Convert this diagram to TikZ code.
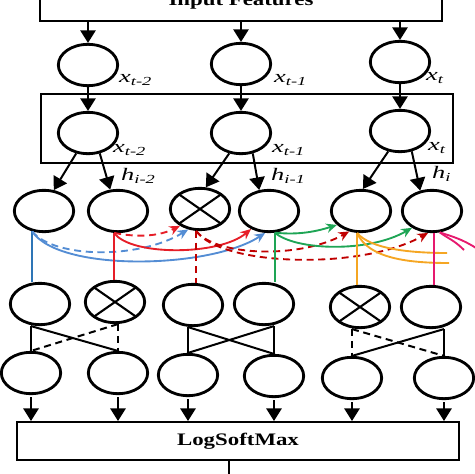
\documentclass[tikz,border=0pt]{standalone}
\usepackage{fontspec}
\setmainfont{Liberation Serif}
\usepackage{tikz}
\usetikzlibrary{arrows.meta,shapes.geometric,calc}
\definecolor{lstmblue}{RGB}{46,117,182}
\definecolor{skipblue}{RGB}{84,141,212}
\definecolor{lstmred}{RGB}{230,30,40}
\definecolor{lstmdark}{RGB}{192,0,0}
\definecolor{lstmgreen}{RGB}{30,165,85}
\definecolor{lstmorange}{RGB}{245,166,35}
\definecolor{lstmpink}{RGB}{230,25,110}
\newcommand{\lbl}[2]{\scalebox{1.5}[1]{\textit{#1}\textsubscript{\textit{#2}}}}
\newcommand{\boxtext}[1]{\scalebox{1.3}[1]{#1}}

\begin{document}
\begin{tikzpicture}[x=0.03cm,y=-0.03cm,
		cell/.style={ellipse,draw,line width=2.4pt,minimum width=1.78cm,minimum height=1.24cm,inner sep=0pt},
		gate/.style={cell,path picture={\draw[line width=1.8pt] (path picture bounding box.north west) -- (path picture bounding box.south east) (path picture bounding box.north east) -- (path picture bounding box.south west);}},
		layer/.style={rectangle,draw,line width=1.7pt,minimum height=1.14cm,font=\fontsize{15}{18}\selectfont\bfseries},
		lab/.style={anchor=west,inner sep=0pt,font=\fontsize{15}{17}\selectfont},
		arr/.style={line width=1.7pt,-{Triangle[width=0.46cm,length=0.38cm]}},
		link/.style={line width=1.7pt},
		flow/.style={line width=1.6pt},
		tip/.style={-{Stealth[length=0.32cm,width=0.28cm]}},
		dsh/.style={dash pattern=on 6pt off 4pt}]
		\useasboundingbox (0,0) rectangle (474,474);
		
		\node[layer,minimum width=12.06cm] (feat) at (241,2) {\boxtext{Input Features}};
		
		\node[cell] (in1) at (88,65) {};
		\node[cell] (in2) at (241,64) {};
		\node[cell] (in3) at (400,62) {};
		\node[lab] (lin1) at (119,80) {\lbl{x}{t-2}};
		\node[lab] (lin2) at (274,80) {\lbl{x}{t-1}};
		\node[lab] (lin3) at (426,78) {\lbl{x}{t}};
		
		\draw[link] (41,94) rectangle (453,163);
		\node[cell] (emb1) at (88,133) {};
		\node[cell] (emb2) at (241,133) {};
		\node[cell] (emb3) at (400,131) {};
		\node[lab] (lemb1) at (113,150) {\lbl{x}{t-2}};
		\node[lab] (lemb2) at (272,150) {\lbl{x}{t-1}};
		\node[lab] (lemb3) at (428,148) {\lbl{x}{t}};
		
		\node[cell] (h1) at (44,211) {};
		\node[cell] (h2) at (118,211) {};
		\node[gate] (h3) at (200,209) {};
		\node[cell] (h4) at (269,211) {};
		\node[cell] (h5) at (361,211) {};
		\node[cell] (h6) at (432,211) {};
		\node[lab] (lh1) at (121,176) {\lbl{h}{i-2}};
		\node[lab] (lh2) at (271,176) {\lbl{h}{i-1}};
		\node[lab] (lh3) at (432,174) {\lbl{h}{i}};
		
		\node[cell] (f1) at (40,304) {};
		\node[gate] (f2) at (115,302) {};
		\node[cell] (f3) at (193,305) {};
		\node[cell] (f4) at (264,304) {};
		\node[gate] (f5) at (360,307) {};
		\node[cell] (f6) at (431,307) {};
		
		\node[cell] (o1) at (31,373) {};
		\node[cell] (o2) at (118,373) {};
		\node[cell] (o3) at (188,375) {};
		\node[cell] (o4) at (274,376) {};
		\node[cell] (o5) at (352,378) {};
		\node[cell] (o6) at (444,378) {};
		
		\node[layer,minimum width=13.26cm] (lsm) at (238,441) {\boxtext{LogSoftMax}};
		\coordinate (sink) at (229,480);
		
		\draw[arr] (feat.south -| in1) -- (in1.north);
		\draw[arr] (feat.south -| in2) -- (in2.north);
		\draw[arr] (feat.south -| in3) -- (in3.north);
		\draw[arr] (in1) -- (emb1);
		\draw[arr] (in2) -- (emb2);
		\draw[arr] (in3) -- (emb3);
		\draw[arr] (emb1.240) -- (h1.65);
		\draw[arr] (emb1.300) -- (h2.110);
		\draw[arr] (emb2.240) -- (h3.75);
		\draw[arr] (emb2.300) -- (h4.115);
		\draw[arr] (emb3.240) -- (h5.85);
		\draw[arr] (emb3.300) -- (h6.120);
		
		% links from the hidden states
		\draw[flow,lstmblue] (h1.240) -- (h1.240 |- f1.north);
		\draw[flow,skipblue,dsh,tip] (h1.240) .. controls +(22,27) and +(-49,30) .. (h3.240);
		\draw[flow,skipblue,tip] (h1.240) .. controls +(27,41) and +(-55,36) .. (h4.260);
		\draw[flow,lstmred] (h2.260) -- (h2.260 |- f2.north);
		\draw[flow,lstmred,dsh,tip] (h2.260) .. controls +(25,5) and +(-20,10) .. (h3.220);
		\draw[flow,lstmred,tip] (h2.260) .. controls +(16,23) and +(-32,27) .. (h4.225);
		\draw[flow,lstmdark,dsh] (h3.260) -- (h3.260 |- f3.north);
		\draw[flow,lstmdark,dsh,tip] (h3.260) .. controls +(19,25) and +(-50,28) .. (h5.240);
		\draw[flow,lstmdark,dsh,tip] (h3.260) .. controls +(24,35) and +(-68,38) .. (h6.260);
		\draw[flow,lstmgreen] (h4.285) -- (h4.285 |- f4.north);
		\draw[flow,lstmgreen,tip] (h4.285) .. controls +(20,2) and +(-25,8) .. (h5.210);
		\draw[flow,lstmgreen,tip] (h4.285) .. controls +(21,18) and +(-43,25) .. (h6.220);
		\coordinate (nextA) at (447,253);
		\coordinate (nextB) at (449,263);
		\draw[flow,lstmorange] (h5.260) -- (h5.260 |- f5.north);
		\draw[flow,lstmorange] (h5.260) .. controls +(13,16) and +(-37,0) .. (nextA);
		\draw[flow,lstmorange] (h5.260) .. controls +(11,26) and +(-39,0) .. (nextB);
		\coordinate (prevA) at (476,248);
		\coordinate (prevB) at (464,250);
		\draw[flow,lstmpink] (h6.275) -- (h6.275 |- f6.north);
		\draw[flow,lstmpink] (prevA) .. controls +(-14,-9) and +(12,4) .. (h6.290);
		\draw[flow,lstmpink] (prevB) .. controls +(-10,-10) and +(8,6) .. (h6.290);
		
		% forward and backward pairs
		\draw[link] (f1.south -| o1) -- (o1.north);
		\draw[link] (f1.south -| o1) -- (o2.north);
		\draw[link,dsh] (f2.south -| o2) -- (o2.north);
		\draw[link,dsh] (f2.south -| o2) -- (o1.north);
		\draw[link] (f3.south -| o3) -- (o3.north);
		\draw[link] (f3.south -| o3) -- (o4.north);
		\draw[link] (f4.south -| o4) -- (o4.north);
		\draw[link] (f4.south -| o4) -- (o3.north);
		\draw[link,dsh] (f5.south -| o5) -- (o5.north);
		\draw[link,dsh] (f5.south -| o5) -- (o6.north);
		\draw[link] (f6.south -| o6) -- (o6.north);
		\draw[link] (f6.south -| o6) -- (o5.north);
		
		\draw[arr,shorten <=2pt] (o1.south) -- (o1.south |- lsm.north);
		\draw[arr,shorten <=2pt] (o2.south) -- (o2.south |- lsm.north);
		\draw[arr,shorten <=2pt] (o3.south) -- (o3.south |- lsm.north);
		\draw[arr,shorten <=2pt] (o4.south) -- (o4.south |- lsm.north);
		\draw[arr,shorten <=2pt] (o5.south) -- (o5.south |- lsm.north);
		\draw[arr,shorten <=2pt] (o6.south) -- (o6.south |- lsm.north);
		\draw[link] (lsm.south -| sink) -- (sink);
	\end{tikzpicture}
\end{document}
